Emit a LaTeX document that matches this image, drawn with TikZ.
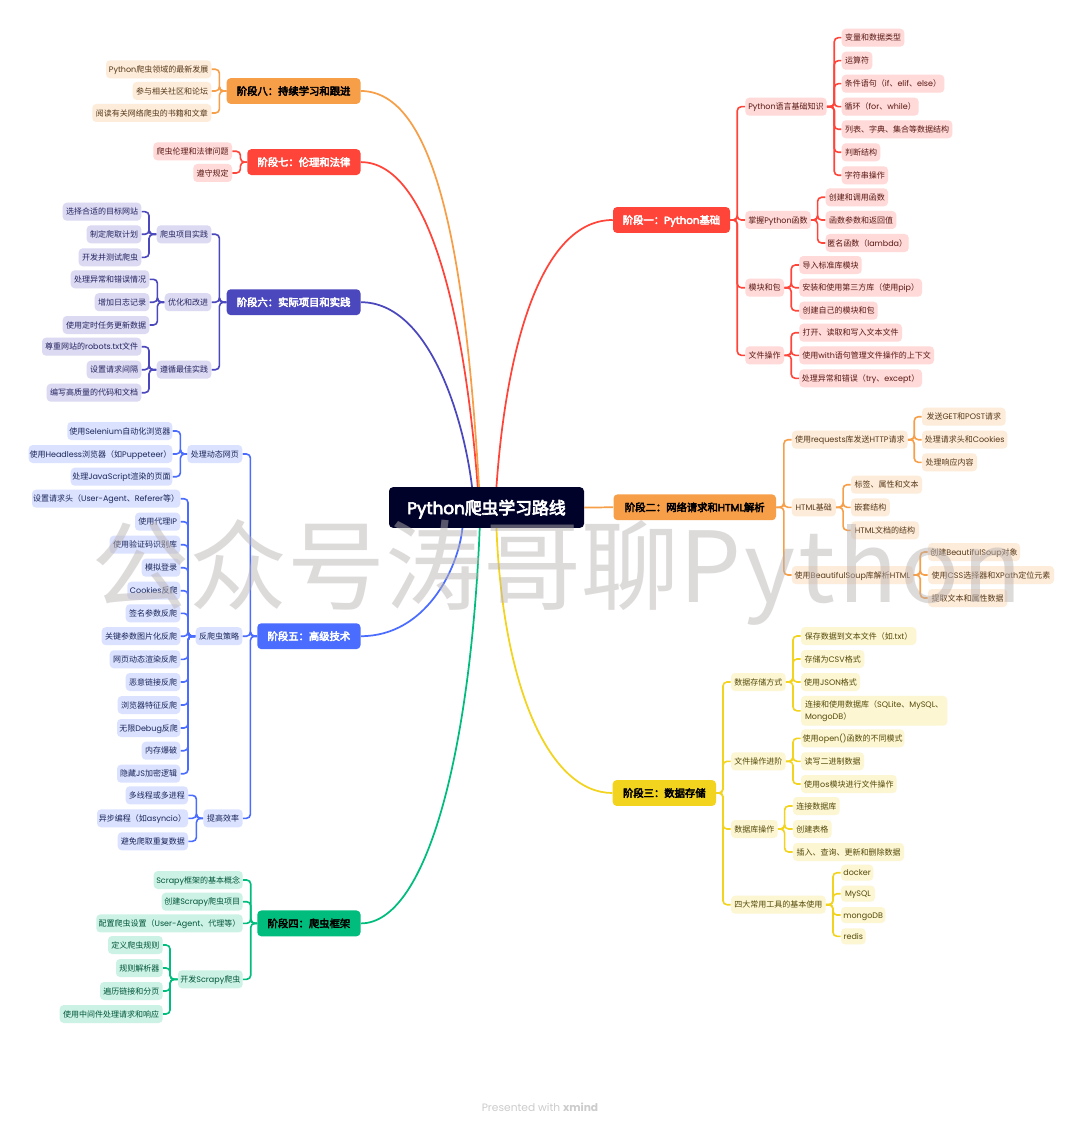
\documentclass[tikz,border=0pt]{standalone}
\usepackage{fontspec}
\setmainfont{Noto Sans CJK SC}
\newfontfamily\popfont{Poppins}
\newfontfamily\medfont[FakeBold=4]{Noto Sans CJK SC}
\newfontfamily\medpop[FakeBold=4]{Poppins}
\newfontfamily\wmlat[LetterSpace=3]{Noto Sans CJK SC}
\usetikzlibrary{backgrounds,calc}
\newcommand{\lz}[1]{{\popfont #1}}
\newcommand{\lm}[1]{{\medpop #1}}
\definecolor{cred}{HTML}{FF453A}
\definecolor{cora}{HTML}{F79F48}
\definecolor{cyel}{HTML}{F2D31D}
\definecolor{cgrn}{HTML}{00BD7D}
\definecolor{cblu}{HTML}{4A6DFF}
\definecolor{cind}{HTML}{4B47BD}
\definecolor{croot}{HTML}{000229}
\definecolor{wmark}{HTML}{BAB2B2}
\tikzset{
  x=0.75pt,y=-0.75pt,
  base/.style={rounded corners=3pt,inner sep=0pt,minimum height=13.5pt,text height=5.28pt,text depth=0.72pt,font=\fontsize{6}{8.8}\selectfont},
  lfr/.style={base,fill=cred!20,text=cred!35!black},
  lfo/.style={base,fill=cora!20,text=cora!35!black},
  lfy/.style={base,fill=cyel!20,text=cyel!35!black},
  lfg/.style={base,fill=cgrn!20,text=cgrn!45!black},
  lfb/.style={base,fill=cblu!20,text=cblu!35!black},
  lfi/.style={base,fill=cind!20,text=cind!50!black},
  stg/.style={rounded corners=3pt,inner sep=0pt,minimum height=19.4pt,text height=6.5pt,text depth=0.6pt,font=\fontsize{7.75}{10}\medfont},
  rootbox/.style={rounded corners=3pt,inner sep=0pt,minimum height=30.5pt,text height=11pt,text depth=1.1pt,fill=croot,text=white,font=\fontsize{12.6}{15}\medfont},
  conn/.style={line width=1.2pt,rounded corners=3pt},
  curve/.style={line width=1.3pt},
  mark text/.style={font=\fontsize{73.5}{73.5}\selectfont,text=wmark,text opacity=.48,inner sep=0pt},
  footer/.style={font=\fontsize{8}{10}\selectfont,text=black!20,inner sep=0pt},
}
\newcommand{\nd}[6]{\node[#1,minimum width={(#4-#3)*0.75pt}] (#2) at ({(#3+#4)/2},#5) {#6};}
\newcommand{\rb}[4]{\draw[conn,#1] (#2.east) -- ++(#3,0) |- (#4.west);}
\newcommand{\lb}[4]{\draw[conn,#1] (#2.west) -- ++(-#3,0) |- (#4.east);}
\begin{document}
\begin{tikzpicture}
\useasboundingbox (0,0) rectangle (1080,1123);
% root
\nd{rootbox}{root}{389}{584}{507.5}{\lm{Python}爬虫学习路线}
% stages
\nd{stg,fill=cred,text=white}{s1}{613}{730}{220}{阶段一：\lm{Python}基础}
\nd{stg,fill=cora,text=black}{s2}{613.5}{776}{507.3}{阶段二：网络请求和\lm{HTML}解析}
\nd{stg,fill=cyel,text=black}{s3}{612.7}{716}{793}{阶段三：数据存储}
\nd{stg,fill=cgrn,text=black}{s4}{257.3}{360.5}{923.4}{阶段四：爬虫框架}
\nd{stg,fill=cblu,text=white}{s5}{257.3}{360.5}{636.2}{阶段五：高级技术}
\nd{stg,fill=cind,text=white}{s6}{226.7}{360.5}{302.2}{阶段六：实际项目和实践}
\nd{stg,fill=cred,text=white}{s7}{247.3}{360.5}{162.1}{阶段七：伦理和法律}
\nd{stg,fill=cora,text=black}{s8}{226.7}{360.5}{91}{阶段八：持续学习和跟进}
% stage 1
\nd{lfr}{a1}{745.3}{826.7}{106.7}{\lz{Python}语言基础知识}
\nd{lfr}{a11}{841.7}{904.3}{37.7}{变量和数据类型}
\nd{lfr}{a12}{841.7}{872.3}{60.7}{运算符}
\nd{lfr}{a13}{841.7}{944.3}{83.7}{条件语句（\lz{if}、\lz{elif}、\lz{else}）}
\nd{lfr}{a14}{841.7}{918.7}{106.7}{循环（\lz{for}、\lz{while}）}
\nd{lfr}{a15}{841.7}{952.3}{129.3}{列表、字典、集合等数据结构}
\nd{lfr}{a16}{841.7}{880.3}{152.3}{判断结构}
\nd{lfr}{a17}{841.7}{888}{175.3}{字符串操作}
\nd{lfr}{a2}{745.3}{810.7}{220}{掌握\lz{Python}函数}
\nd{lfr}{a21}{825.7}{888}{197.3}{创建和调用函数}
\nd{lfr}{a22}{825.7}{896.3}{220}{函数参数和返回值}
\nd{lfr}{a23}{825.7}{908.7}{243}{匿名函数（\lz{lambda}）}
\nd{lfr}{a3}{745.3}{784}{287.7}{模块和包}
\nd{lfr}{a31}{799.3}{861.7}{265}{导入标准库模块}
\nd{lfr}{a32}{799.3}{922}{287.7}{安装和使用第三方库（使用\lz{pip}）}
\nd{lfr}{a33}{799.3}{877.7}{310.7}{创建自己的模块和包}
\nd{lfr}{a4}{745.3}{784}{355.3}{文件操作}
\nd{lfr}{a41}{799.3}{902}{332.7}{打开、读取和写入文本文件}
\nd{lfr}{a42}{799.3}{934}{355.3}{使用\lz{with}语句管理文件操作的上下文}
\nd{lfr}{a43}{799.3}{922}{378.3}{处理异常和错误（\lz{try}、\lz{except}）}
% stage 2
\nd{lfo}{b1}{791.8}{907.7}{439.7}{使用\lz{requests}库发送\lz{HTTP}请求}
\nd{lfo}{b11}{922}{1005.6}{416.7}{发送\lz{GET}和\lz{POST}请求}
\nd{lfo}{b12}{922}{1007.4}{439.7}{处理请求头和\lz{Cookies}}
\nd{lfo}{b13}{922}{977}{462.3}{处理响应内容}
\nd{lfo}{b2}{791.8}{835.8}{507.3}{\lz{HTML}基础}
\nd{lfo}{b21}{851}{922}{484.7}{标签、属性和文本}
\nd{lfo}{b22}{851}{889.8}{507.3}{嵌套结构}
\nd{lfo}{b23}{851}{919}{530.3}{\lz{HTML}文档的结构}
\nd{lfo}{b3}{791.8}{913}{575}{使用\lz{BeautifulSoup}库解析\lz{HTML}}
\nd{lfo}{b31}{928}{1020}{552}{创建\lz{BeautifulSoup}对象}
\nd{lfo}{b32}{928}{1054}{575}{使用\lz{CSS}选择器和\lz{XPath}定位元素}
\nd{lfo}{b33}{928}{1007.4}{598}{提取文本和属性数据}
% stage 3
\nd{lfy}{c1}{731}{785.7}{682}{数据存储方式}
\nd{lfy}{c11}{801}{916.3}{636}{保存数据到文本文件（如\lz{.txt}）}
\nd{lfy}{c12}{801}{864.3}{659}{存储为\lz{CSV}格式}
\nd{lfy}{c13}{801}{860}{682}{使用\lz{JSON}格式}
\nd{lfy,minimum height=22.3pt,text height=,text depth=,align=left}{c14}{801}{947.3}{710.8}{连接和使用数据库（\lz{SQLite}、\lz{MySQL}、\\\lz{MongoDB}）}
\nd{lfy}{c2}{731}{785.7}{761.3}{文件操作进阶}
\nd{lfy}{c21}{801}{904.3}{738.3}{使用\lz{open()}函数的不同模式}
\nd{lfy}{c22}{801}{864}{761.3}{读写二进制数据}
\nd{lfy}{c23}{801}{896.7}{784}{使用\lz{os}模块进行文件操作}
\nd{lfy}{c3}{731}{777.7}{829}{数据库操作}
\nd{lfy}{c31}{793}{839.7}{806}{连接数据库}
\nd{lfy}{c32}{793}{831.7}{829}{创建表格}
\nd{lfy}{c33}{793}{904}{852}{插入、查询、更新和删除数据}
\nd{lfy}{c4}{731}{825.7}{904.7}{四大常用工具的基本使用}
\nd{lfy,minimum height=12pt}{c41}{841}{873.3}{872.7}{\lz{docker}}
\nd{lfy,minimum height=12pt}{c42}{841}{875}{893.7}{\lz{MySQL}}
\nd{lfy,minimum height=12pt}{c43}{841}{885.3}{915}{\lz{mongoDB}}
\nd{lfy,minimum height=12pt}{c44}{841}{865.7}{936.3}{\lz{redis}}
% stage 4
\nd{lfg}{d1}{153.7}{242.7}{880}{\lz{Scrapy}框架的基本概念}
\nd{lfg}{d2}{161.7}{242.7}{901.7}{创建\lz{Scrapy}爬虫项目}
\nd{lfg}{d3}{96.3}{242.7}{923.4}{配置爬虫设置（\lz{User-Agent}、代理等）}
\nd{lfg}{d4}{178}{242.7}{979.3}{开发\lz{Scrapy}爬虫}
\nd{lfg}{d41}{108}{162.7}{945}{定义爬虫规则}
\nd{lfg}{d42}{116}{162.7}{968}{规则解析器}
\nd{lfg}{d43}{100}{162.7}{991}{遍历链接和分页}
\nd{lfg}{d44}{59.7}{162.7}{1014}{使用中间件处理请求和响应}
% stage 5
\nd{lfb}{e1}{187.3}{242.3}{454}{处理动态网页}
\nd{lfb}{e11}{67.3}{172.3}{431}{使用\lz{Selenium}自动化浏览器}
\nd{lfb}{e12}{28.7}{172.3}{454}{使用\lz{Headless}浏览器（如\lz{Puppeteer}）}
\nd{lfb}{e13}{70.7}{172.3}{476.7}{处理\lz{JavaScript}渲染的页面}
\nd{lfb}{e2}{195.7}{242.3}{636.2}{反爬虫策略}
\nd{lfb}{e21}{32}{180.3}{498.7}{设置请求头（\lz{User-Agent}、\lz{Referer}等）}
\nd{lfb}{e22}{135}{180.3}{521.7}{使用代理\lz{IP}}
\nd{lfb}{e23}{109.7}{180.3}{544.7}{使用验证码识别库}
\nd{lfb}{e24}{141.7}{180.3}{567.7}{模拟登录}
\nd{lfb}{e25}{127.3}{180.3}{590.7}{\lz{Cookies}反爬}
\nd{lfb}{e26}{125.7}{180.3}{613.3}{签名参数反爬}
\nd{lfb}{e27}{101.7}{180.3}{636.2}{关键参数图片化反爬}
\nd{lfb}{e28}{109.7}{180.3}{659.3}{网页动态渲染反爬}
\nd{lfb}{e29}{125.7}{180.3}{682}{恶意链接反爬}
\nd{lfb}{e210}{117.7}{180.3}{705}{浏览器特征反爬}
\nd{lfb}{e211}{117}{180.3}{728}{无限\lz{Debug}反爬}
\nd{lfb}{e212}{141.7}{180.3}{750.7}{内存爆破}
\nd{lfb}{e213}{117}{180.3}{773.7}{隐藏\lz{JS}加密逻辑}
\nd{lfb}{e3}{203.3}{242.7}{818.3}{提高效率}
\nd{lfb}{e31}{125.7}{188}{795.3}{多线程或多进程}
\nd{lfb}{e32}{97}{188}{818.3}{异步编程（如\lz{asyncio}）}
\nd{lfb}{e33}{117.7}{188}{841.3}{避免爬取重复数据}
% stage 6
\nd{lfi}{f1}{156.7}{211.3}{234.3}{爬虫项目实践}
\nd{lfi}{f11}{62.7}{141.3}{211.7}{选择合适的目标网站}
\nd{lfi}{f12}{86.7}{141.3}{234.3}{制定爬取计划}
\nd{lfi}{f13}{78.7}{141.3}{257.3}{开发并测试爬虫}
\nd{lfi}{f2}{164.7}{211.3}{302.2}{优化和改进}
\nd{lfi}{f21}{70.7}{149.3}{279.3}{处理异常和错误情况}
\nd{lfi}{f22}{94.7}{149.3}{302.2}{增加日志记录}
\nd{lfi}{f23}{62.7}{149.3}{325}{使用定时任务更新数据}
\nd{lfi}{f3}{156.7}{211.3}{369.7}{遵循最佳实践}
\nd{lfi}{f31}{42}{141.3}{346.7}{尊重网站的\lz{robots.txt}文件}
\nd{lfi}{f32}{86.7}{141.3}{369.7}{设置请求间隔}
\nd{lfi}{f33}{46.7}{141.3}{392.7}{编写高质量的代码和文档}
% stage 7
\nd{lfr}{g1}{153.3}{232}{151.3}{爬虫伦理和法律问题}
\nd{lfr}{g2}{193.3}{232}{173}{遵守规定}
% stage 8
\nd{lfo}{h1}{106}{211.3}{69.3}{\lz{Python}爬虫领域的最新发展}
\nd{lfo}{h2}{132.7}{211.3}{91}{参与相关社区和论坛}
\nd{lfo}{h3}{92.3}{211.3}{113}{阅读有关网络爬虫的书籍和文章}
% footer
\node[footer] (foot) at (540,1107) {\lz{Presented with \textbf{xmind}}};
% watermark
\node[mark text,anchor=base west] (wm) at (91,602) {公众号涛哥聊{\wmlat Python}};
\begin{scope}[on background layer]
\fill[white] (0,0) rectangle (1080,1123);
% central curves
\coordinate (r1) at ($(root.north west)+(107.7,0)$);
\coordinate (r2) at ($(root.south west)+(107.7,0)$);
\coordinate (r5) at ($(root.south west)+(73.7,0)$);
\coordinate (r4) at ($(root.south west)+(91,0)$);
\coordinate (r8) at ($(root.north west)+(90.3,0)$);
\coordinate (r7) at ($(root.north west)+(89,0)$);
\coordinate (r6) at ($(root.north west)+(83.3,0)$);
\draw[curve,cred] (r1) .. controls (506,350) and (540,220) .. (s1.west);
\draw[curve,cora] (root.east) -- (s2.west);
\draw[curve,cyel] (r2) .. controls (503,690) and (550,793) .. (s3.west);
\draw[curve,cgrn] (r4) .. controls (470,760) and (425,923.4) .. (s4.east);
\draw[curve,cblu] (r5) .. controls (458,570) and (425,636.2) .. (s5.east);
\draw[curve,cind] (r6) .. controls (464,420) and (430,302.2) .. (s6.east);
\draw[curve,cred] (r7) .. controls (465,320) and (430,162.1) .. (s7.east);
\draw[curve,cora] (r8) .. controls (465,250) and (435,91) .. (s8.east);
% stage 1
\rb{cred}{s1}{7}{a1}\rb{cred}{s1}{7}{a2}\rb{cred}{s1}{7}{a3}\rb{cred}{s1}{7}{a4}
\rb{cred}{a1}{7.3}{a11}\rb{cred}{a1}{7.3}{a12}\rb{cred}{a1}{7.3}{a13}\rb{cred}{a1}{7.3}{a14}\rb{cred}{a1}{7.3}{a15}\rb{cred}{a1}{7.3}{a16}\rb{cred}{a1}{7.3}{a17}
\rb{cred}{a2}{6.6}{a21}\rb{cred}{a2}{6.6}{a22}\rb{cred}{a2}{6.6}{a23}
\rb{cred}{a3}{7}{a31}\rb{cred}{a3}{7}{a32}\rb{cred}{a3}{7}{a33}
\rb{cred}{a4}{7}{a41}\rb{cred}{a4}{7}{a42}\rb{cred}{a4}{7}{a43}
% stage 2
\rb{cora}{s2}{7.6}{b1}\rb{cora}{s2}{7.6}{b2}\rb{cora}{s2}{7.6}{b3}
\rb{cora}{b1}{6.3}{b11}\rb{cora}{b1}{6.3}{b12}\rb{cora}{b1}{6.3}{b13}
\rb{cora}{b2}{7}{b21}\rb{cora}{b2}{7}{b22}\rb{cora}{b2}{7}{b23}
\rb{cora}{b3}{7}{b31}\rb{cora}{b3}{7}{b32}\rb{cora}{b3}{7}{b33}
% stage 3
\rb{cyel}{s3}{6.7}{c1}\rb{cyel}{s3}{6.7}{c2}\rb{cyel}{s3}{6.7}{c3}\rb{cyel}{s3}{6.7}{c4}
\rb{cyel}{c1}{7}{c11}\rb{cyel}{c1}{7}{c12}\rb{cyel}{c1}{7}{c13}\rb{cyel}{c1}{7}{c14}
\rb{cyel}{c2}{7}{c21}\rb{cyel}{c2}{7}{c22}\rb{cyel}{c2}{7}{c23}
\rb{cyel}{c3}{6.6}{c31}\rb{cyel}{c3}{6.6}{c32}\rb{cyel}{c3}{6.6}{c33}
\rb{cyel}{c4}{7}{c41}\rb{cyel}{c4}{7}{c42}\rb{cyel}{c4}{7}{c43}\rb{cyel}{c4}{7}{c44}
% stage 4
\lb{cgrn}{s4}{6.3}{d1}\lb{cgrn}{s4}{6.3}{d2}\lb{cgrn}{s4}{6.3}{d3}\lb{cgrn}{s4}{6.3}{d4}
\lb{cgrn}{d4}{7.7}{d41}\lb{cgrn}{d4}{7.7}{d42}\lb{cgrn}{d4}{7.7}{d43}\lb{cgrn}{d4}{7.7}{d44}
% stage 5
\lb{cblu}{s5}{6.6}{e1}\lb{cblu}{s5}{6.6}{e2}\lb{cblu}{s5}{6.6}{e3}
\lb{cblu}{e1}{6.6}{e11}\lb{cblu}{e1}{6.6}{e12}\lb{cblu}{e1}{6.6}{e13}
\lb{cblu}{e2}{7.4}{e21}\lb{cblu}{e2}{7.4}{e22}\lb{cblu}{e2}{7.4}{e23}\lb{cblu}{e2}{7.4}{e24}\lb{cblu}{e2}{7.4}{e25}\lb{cblu}{e2}{7.4}{e26}\lb{cblu}{e2}{7.4}{e27}\lb{cblu}{e2}{7.4}{e28}\lb{cblu}{e2}{7.4}{e29}\lb{cblu}{e2}{7.4}{e210}\lb{cblu}{e2}{7.4}{e211}\lb{cblu}{e2}{7.4}{e212}\lb{cblu}{e2}{7.4}{e213}
\lb{cblu}{e3}{6.6}{e31}\lb{cblu}{e3}{6.6}{e32}\lb{cblu}{e3}{6.6}{e33}
% stage 6
\lb{cind}{s6}{7}{f1}\lb{cind}{s6}{7}{f2}\lb{cind}{s6}{7}{f3}
\lb{cind}{f1}{7.4}{f11}\lb{cind}{f1}{7.4}{f12}\lb{cind}{f1}{7.4}{f13}
\lb{cind}{f2}{7}{f21}\lb{cind}{f2}{7}{f22}\lb{cind}{f2}{7}{f23}
\lb{cind}{f3}{7.4}{f31}\lb{cind}{f3}{7.4}{f32}\lb{cind}{f3}{7.4}{f33}
% stage 7, 8
\lb{cred}{s7}{6.6}{g1}\lb{cred}{s7}{6.6}{g2}
\lb{cora}{s8}{7}{h1}\lb{cora}{s8}{7}{h2}\lb{cora}{s8}{7}{h3}
\end{scope}
\end{tikzpicture}
\end{document}
